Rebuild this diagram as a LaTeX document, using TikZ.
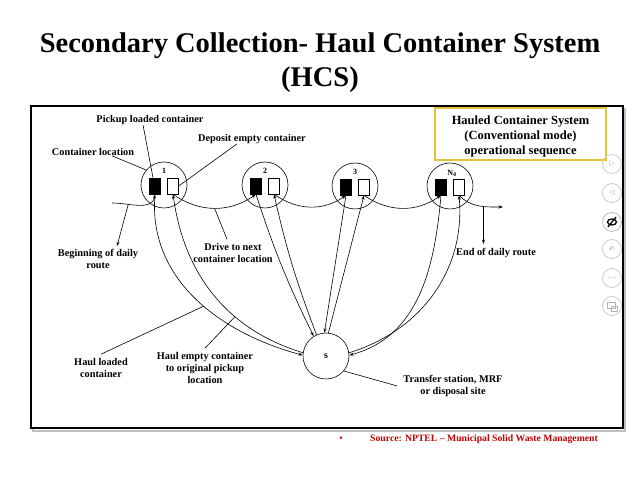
\documentclass[tikz,border=0pt]{standalone}
\usepackage{fontspec}
\setmainfont{Liberation Serif}
\newfontfamily\dejavu{DejaVu Sans}
\usetikzlibrary{arrows.meta}
\definecolor{legendgold}{HTML}{E6C13A}
\definecolor{srcred}{HTML}{C00000}
\begin{document}
\begin{tikzpicture}[x=1pt,y=-1pt,
  lbl/.style={font=\bfseries\fontsize{10.3}{12}\selectfont, align=center, inner sep=0pt},
  num/.style={font=\bfseries\fontsize{8}{9}\selectfont, inner sep=0pt},
  loc/.style={draw, circle, minimum size=46pt, inner sep=0pt, line width=0.6pt},
  fullbox/.style={draw, fill=black, minimum width=11pt, minimum height=16pt, inner sep=0pt, line width=0.6pt},
  emptybox/.style={draw, fill=white, minimum width=11pt, minimum height=16pt, inner sep=0pt, line width=0.6pt},
  arr/.style={-{Stealth[length=4.5pt,width=3pt]}, line width=0.6pt},
  ln/.style={line width=0.6pt},
  icon/.style={draw=gray!40, circle, minimum size=19pt, inner sep=0pt, line width=0.8pt, text=gray!65}]

\useasboundingbox (0,0) rectangle (638,478);
\fill[white] (0,0) rectangle (638,478);

% title
\node[font=\bfseries\fontsize{28.5}{32}\selectfont, inner sep=0pt] (t1) at (320,46) {Secondary Collection- Haul Container System};
\node[font=\bfseries\fontsize{28.5}{32}\selectfont, inner sep=0pt] (t2) at (320,80) {(HCS)};

% frame
\draw[gray!50, line width=2pt] (33,109) rectangle (625,431);
\draw[line width=2.5pt, fill=white] (31,106) rectangle (623,428);

% legend
\node[draw=legendgold, line width=1.5pt, minimum width=171pt, minimum height=52pt, inner sep=0pt] (leg) at (520.5,134) {};
\node[font=\bfseries\fontsize{12.5}{15}\selectfont, align=center, inner sep=0pt] (legtxt) at ([yshift=-2pt]leg.center) {Hauled Container System\\(Conventional mode)\\operational sequence};

% container locations
\node[loc] (c1) at (164,185) {};
\node[fullbox] (b1) at (155,186) {};
\node[emptybox] (w1) at (173,186) {};
\node[num] (n1) at (164,171) {1};

\node[loc] (c2) at (265,185) {};
\node[fullbox] (b2) at (256,186) {};
\node[emptybox] (w2) at (274,186) {};
\node[num] (n2) at (265,171) {2};

\node[loc] (c3) at (355,186) {};
\node[fullbox] (b3) at (346,187) {};
\node[emptybox] (w3) at (364,187) {};
\node[num] (n3) at (355,172) {3};

\node[loc] (cN) at (450,186) {};
\node[fullbox] (bN) at (441,187) {};
\node[emptybox] (wN) at (459,187) {};
\node[num] (nN) at (452,173) {N\textsubscript{4}};

\node[loc] (s) at (326,356) {\bfseries\fontsize{10}{11}\selectfont s};

\coordinate (start) at (112,203);
\coordinate (end) at (503,207);

% route
\draw[arr] (start) to[out=0,in=-100] coordinate[pos=0.3] (bq) (b1.south);
\draw[arr] (w1.south) to[out=-35,in=-145] coordinate[pos=0.5] (dq) (b2.south);
\draw[arr] (w2.south) to[out=-35,in=-145] (b3.south);
\draw[arr] (w3.south) to[out=-35,in=-145] (bN.south);
\draw[arr] (wN.south) to[out=-45,in=180] coordinate[pos=0.6] (eq) (end);

% haul trips
\draw[arr] (b1.south) to[out=-95,in=165] coordinate[pos=0.55] (hq) (s.178);
\draw[arr] (s.172) to[out=163,in=-82] coordinate[pos=0.35] (hq2) (w1.south);
\draw[arr] (b2.south) to[bend right=4] (s.122);
\draw[arr] (s.114) to[bend left=4] (w2.south);
\draw[arr] (b3.south) -- (s.94);
\draw[arr] (s.84) -- (w3.south);
\draw[arr] (bN.south) to[out=-95,in=15] (s.2);
\draw[arr] (s.8) to[out=17,in=-85] (wN.south);

% labels
\node[lbl] (lpick) at (150,120) {Pickup loaded container};
\node[lbl] (ldep) at (252,139) {Deposit empty container};
\node[lbl] (lcon) at (93,152) {Container location};
\node[lbl] (lbeg) at (98,259) {Beginning of daily\\route};
\node[lbl] (ldrive) at (233,253) {Drive to next\\container location};
\node[lbl] (lend) at (496,253) {End of daily route};
\node[lbl] (lhl) at (101,368) {Haul loaded\\container};
\node[lbl] (lhe) at (205,368) {Haul empty container\\to original pickup\\location};
\node[lbl] (ltr) at (453,386) {Transfer station, MRF\\or disposal site};

\draw[ln] ([xshift=-7pt]lpick.south) -- ([xshift=-2pt]b1.north);
\draw[ln] ([xshift=-15pt]ldep.south) -- (w1.east);
\draw[ln] ([xshift=19pt]lcon.south) -- (c1.140);
\draw[arr] (bq) -- ([xshift=19pt,yshift=3pt]lbeg.north);
\draw[ln] (dq) -- ([xshift=-6pt,yshift=4pt]ldrive.north);
\draw[arr] (eq) -- ([yshift=4pt]eq |- lend.north);
\draw[ln] ([yshift=4pt]lhl.north) -- (hq);
\draw[ln] ([yshift=4pt]lhe.north) -- (hq2);
\draw[ln] (s.-40) -- ([xshift=-6pt]ltr.west);

% source
\node[font=\bfseries\fontsize{9.7}{11}\selectfont, text=srcred, inner sep=0pt] (src) at (484,439) {Source: NPTEL – Municipal Solid Waste Management};
\node[font=\fontsize{10}{11}\selectfont, text=srcred, inner sep=0pt] (bul) at (341,439) {•};

% viewer icons
\node[icon] (i1) at (612,164) {\dejavu\fontsize{7}{8}\selectfont ▷};
\node[icon] (i2) at (612,193) {\dejavu\fontsize{7}{8}\selectfont ◁};
\node[icon, draw=gray!50] (i3) at (612,222) {};
\draw[line width=1.3pt] (i3.center) ellipse (4.5pt and 3pt);
\draw[line width=1.3pt] ([xshift=-4pt,yshift=-5pt]i3.center) -- ([xshift=4pt,yshift=5pt]i3.center);
\node[icon] (i4) at (612,249) {\dejavu\fontsize{8}{9}\selectfont ✍};
\node[icon] (i5) at (612,278) {\dejavu\fontsize{5}{6}\selectfont ∘∘∘};
\node[icon] (i6) at (612,306) {};
\draw[gray!60, line width=0.7pt] ([xshift=-4.5pt,yshift=4pt]i6.center) rectangle ([xshift=3pt,yshift=-2pt]i6.center);
\draw[gray!60, line width=0.7pt] ([xshift=-1pt,yshift=0pt]i6.center) rectangle ([xshift=5pt,yshift=-5pt]i6.center);
\end{tikzpicture}
\end{document}
